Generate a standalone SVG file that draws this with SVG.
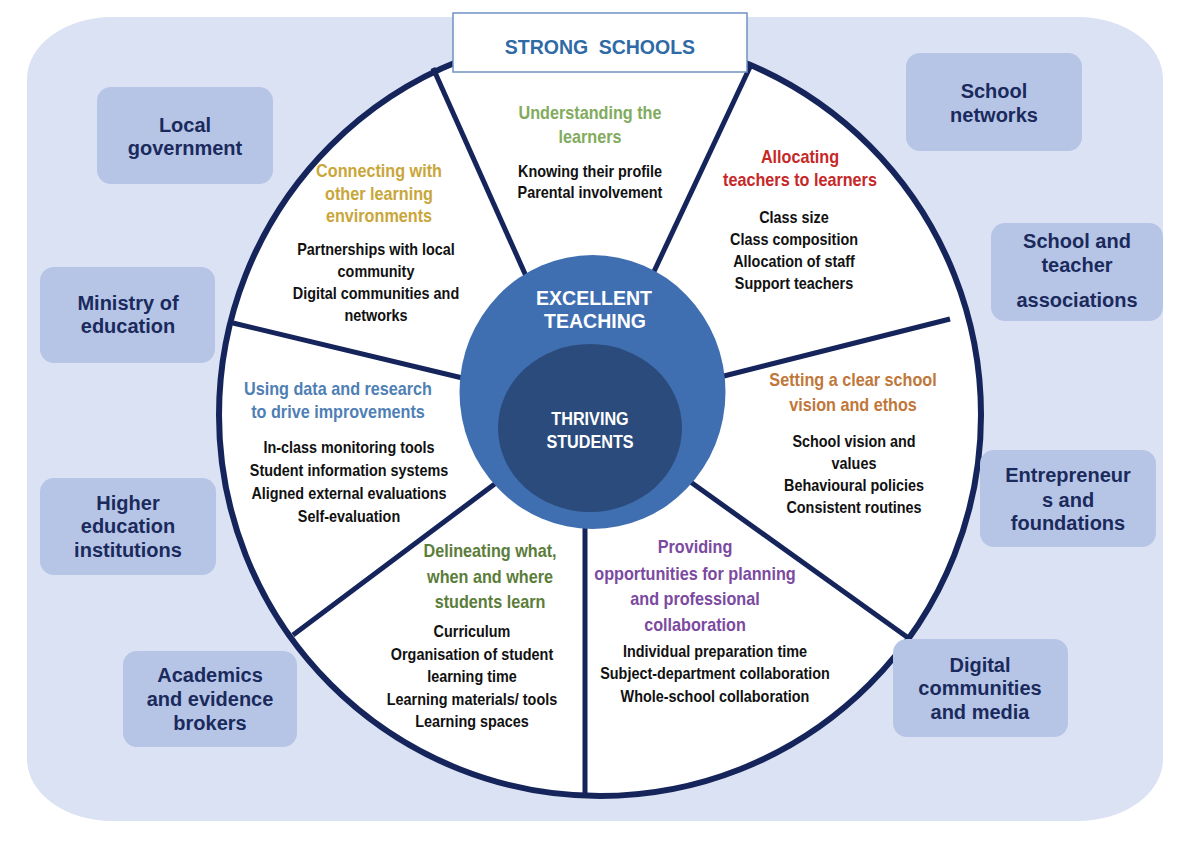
<svg xmlns="http://www.w3.org/2000/svg" width="1179" height="846" viewBox="0 0 1179 846">
<defs>
<style>
.bg{fill:#dbe2f3;}
.ob{fill:#b6c5e6;}
.ot{font-family:"Liberation Sans",Arial,sans-serif;font-weight:bold;font-size:20px;fill:#1b2a5c;text-anchor:middle;}
.h{font-family:"Liberation Sans",Arial,sans-serif;font-weight:bold;font-size:18px;text-anchor:middle;}
.it{font-family:"Liberation Sans",Arial,sans-serif;font-weight:bold;font-size:16px;fill:#111;text-anchor:middle;}
.spoke{stroke:#15245a;stroke-width:5;fill:none;}
.ct{font-family:"Liberation Sans",Arial,sans-serif;font-weight:bold;fill:#fff;text-anchor:middle;}
</style>
</defs>
<rect class="bg" x="27" y="17" width="1136" height="804" rx="85" ry="62"/>
<g id="wheel">
<circle cx="600" cy="415" r="381" fill="#fff" stroke="#15245a" stroke-width="6"/>
</g>
<g id="connectors">
<line class="spoke" x1="433" y1="68" x2="530" y2="285"/>
<line class="spoke" x1="750" y1="67" x2="650" y2="280"/>
<line class="spoke" x1="233" y1="323" x2="475" y2="381"/>
<line class="spoke" x1="950" y1="319" x2="712" y2="379"/>
<line class="spoke" x1="293" y1="635" x2="500" y2="480"/>
<line class="spoke" x1="907" y1="637" x2="685" y2="478"/>
<line class="spoke" x1="585" y1="798" x2="585" y2="520"/>
</g>
<g id="excellent-teaching">
<ellipse cx="592.5" cy="392" rx="133" ry="137" fill="#3f6fb1"/>
<text class="ct" x="594" y="305" font-size="19.5">EXCELLENT</text>
<text class="ct" x="595" y="328" font-size="19.5">TEACHING</text>
</g>
<g id="thriving-students">
<ellipse cx="590" cy="428" rx="92" ry="84" fill="#2b4b7c"/>
<g transform="translate(590 0) scale(0.9 1)">
<text class="ct" x="0" y="425" font-size="18">THRIVING</text>
<text class="ct" x="0" y="448" font-size="18">STUDENTS</text>
</g>
</g>
<g id="strong-schools">
<rect x="453" y="13" width="294" height="59" fill="#fff" stroke="#6f93c2" stroke-width="1.5"/>
<text x="600" y="54" font-family="'Liberation Sans',Arial,sans-serif" font-weight="bold" font-size="19.5" fill="#2f6aa6" text-anchor="middle" word-spacing="5">STRONG SCHOOLS</text>
</g>
<g id="understanding-learners" transform="translate(590 0) scale(0.9 1)">
<text class="h" x="0" y="119" fill="#82ab5e">Understanding the</text>
<text class="h" x="0" y="143" fill="#82ab5e">learners</text>
<text class="it" x="0" y="177">Knowing their profile</text>
<text class="it" x="0" y="198">Parental involvement</text>
</g>
<g id="allocating-teachers">
<g transform="translate(800 0) scale(0.9 1)">
<text class="h" x="0" y="163" fill="#c62828">Allocating</text>
<text class="h" x="0" y="186" fill="#c62828">teachers to learners</text>
</g>
<g transform="translate(794 0) scale(0.9 1)">
<text class="it" x="0" y="223">Class size</text>
<text class="it" x="0" y="245">Class composition</text>
<text class="it" x="0" y="267">Allocation of staff</text>
<text class="it" x="0" y="289">Support teachers</text>
</g>
</g>
<g id="connecting-environments">
<g transform="translate(379 0) scale(0.9 1)">
<text class="h" x="0" y="177" fill="#c9a63a">Connecting with</text>
<text class="h" x="0" y="200" fill="#c9a63a">other learning</text>
<text class="h" x="0" y="222" fill="#c9a63a">environments</text>
</g>
<g transform="translate(376 0) scale(0.9 1)">
<text class="it" x="0" y="255">Partnerships with local</text>
<text class="it" x="0" y="277">community</text>
<text class="it" x="0" y="299">Digital communities and</text>
<text class="it" x="0" y="321">networks</text>
</g>
</g>
<g id="using-data">
<g transform="translate(338 0) scale(0.9 1)">
<text class="h" x="0" y="395" fill="#4f7fb5">Using data and research</text>
<text class="h" x="0" y="418" fill="#4f7fb5">to drive improvements</text>
</g>
<g transform="translate(349 0) scale(0.9 1)">
<text class="it" x="0" y="453">In-class monitoring tools</text>
<text class="it" x="0" y="476">Student information systems</text>
<text class="it" x="0" y="499">Aligned external evaluations</text>
<text class="it" x="0" y="522">Self-evaluation</text>
</g>
</g>
<g id="setting-vision">
<g transform="translate(853 0) scale(0.9 1)">
<text class="h" x="0" y="386" fill="#c0773a">Setting a clear school</text>
<text class="h" x="0" y="411" fill="#c0773a">vision and ethos</text>
</g>
<g transform="translate(854 0) scale(0.9 1)">
<text class="it" x="0" y="447">School vision and</text>
<text class="it" x="0" y="469">values</text>
<text class="it" x="0" y="491">Behavioural policies</text>
<text class="it" x="0" y="513">Consistent routines</text>
</g>
</g>
<g id="delineating">
<g transform="translate(490 0) scale(0.9 1)">
<text class="h" x="0" y="557" fill="#5b7d3a">Delineating what,</text>
<text class="h" x="0" y="583" fill="#5b7d3a">when and where</text>
<text class="h" x="0" y="608" fill="#5b7d3a">students learn</text>
</g>
<g transform="translate(472 0) scale(0.9 1)">
<text class="it" x="0" y="637">Curriculum</text>
<text class="it" x="0" y="660">Organisation of student</text>
<text class="it" x="0" y="682">learning time</text>
<text class="it" x="0" y="705">Learning materials/ tools</text>
<text class="it" x="0" y="727">Learning spaces</text>
</g>
</g>
<g id="providing-opportunities">
<g transform="translate(695 0) scale(0.9 1)">
<text class="h" x="0" y="553" fill="#7b4aa0">Providing</text>
<text class="h" x="0" y="580" fill="#7b4aa0">opportunities for planning</text>
<text class="h" x="0" y="605" fill="#7b4aa0">and professional</text>
<text class="h" x="0" y="631" fill="#7b4aa0">collaboration</text>
</g>
<g transform="translate(715 0) scale(0.9 1)">
<text class="it" x="0" y="657">Individual preparation time</text>
<text class="it" x="0" y="679">Subject-department collaboration</text>
<text class="it" x="0" y="702">Whole-school collaboration</text>
</g>
</g>
<g id="local-government">
<rect class="ob" x="97" y="87" width="176" height="97" rx="14"/>
<text class="ot" x="185" y="132">Local</text>
<text class="ot" x="185" y="155">government</text>
</g>
<g id="ministry-of-education">
<rect class="ob" x="40" y="267" width="175" height="96" rx="14"/>
<text class="ot" x="128" y="310">Ministry of</text>
<text class="ot" x="128" y="333">education</text>
</g>
<g id="higher-education">
<rect class="ob" x="40" y="478" width="176" height="97" rx="14"/>
<text class="ot" x="128" y="510">Higher</text>
<text class="ot" x="128" y="533">education</text>
<text class="ot" x="128" y="557">institutions</text>
</g>
<g id="academics">
<rect class="ob" x="123" y="651" width="174" height="96" rx="14"/>
<text class="ot" x="210" y="682">Academics</text>
<text class="ot" x="210" y="706">and evidence</text>
<text class="ot" x="210" y="730">brokers</text>
</g>
<g id="school-networks">
<rect class="ob" x="906" y="53" width="176" height="98" rx="14"/>
<text class="ot" x="994" y="98">School</text>
<text class="ot" x="994" y="122">networks</text>
</g>
<g id="school-teacher-associations">
<rect class="ob" x="991" y="223" width="172" height="98" rx="14"/>
<text class="ot" x="1077" y="248">School and</text>
<text class="ot" x="1077" y="272">teacher</text>
<text class="ot" x="1077" y="307">associations</text>
</g>
<g id="entrepreneurs">
<rect class="ob" x="980" y="450" width="176" height="97" rx="14"/>
<text class="ot" x="1068" y="482">Entrepreneur</text>
<text class="ot" x="1068" y="507">s and</text>
<text class="ot" x="1068" y="530">foundations</text>
</g>
<g id="digital-communities">
<rect class="ob" x="893" y="639" width="175" height="98" rx="14"/>
<text class="ot" x="980" y="672">Digital</text>
<text class="ot" x="980" y="695">communities</text>
<text class="ot" x="980" y="719">and media</text>
</g>
</svg>
